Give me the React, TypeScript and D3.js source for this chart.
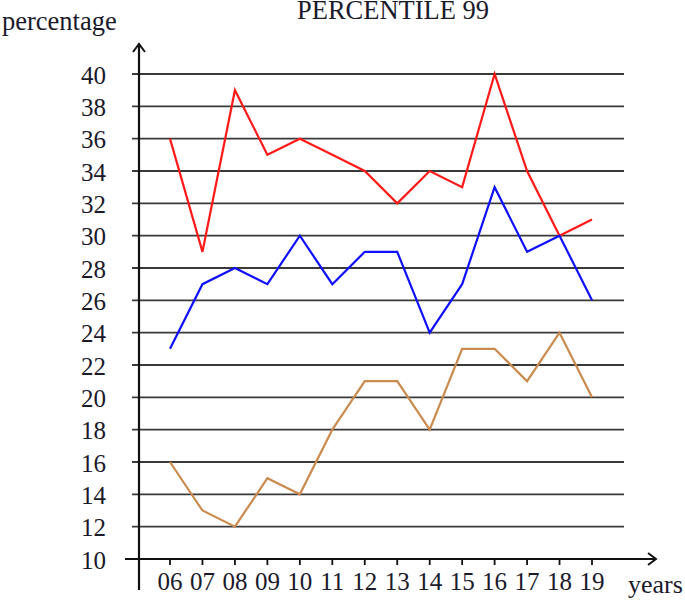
import React from "react";
import * as d3 from "d3";

const years = ["06", "07", "08", "09", "10", "11", "12", "13", "14", "15", "16", "17", "18", "19"];
const redSeries = [36, 29, 39, 35, 36, 35, 34, 32, 34, 33, 40, 34, 30, 31];
const blueSeries = [23, 27, 28, 27, 30, 27, 29, 29, 24, 27, 33, 29, 30, 26];
const brownSeries = [16, 13, 12, 15, 14, 18, 21, 21, 18, 23, 23, 21, 24, 20];
const yTicks = [10, 12, 14, 16, 18, 20, 22, 24, 26, 28, 30, 32, 34, 36, 38, 40];

const W = 685;
const H = 602;
const FONT = "'Liberation Serif', 'Times New Roman', 'DejaVu Serif', serif";

export default function App() {
  const x = d3.scalePoint<string>().domain(years).range([170, 592]);
  const y = d3.scaleLinear().domain([10, 40]).range([559, 74]);
  const axisX = 139;
  const gridRight = 624;

  const line = d3
    .line<number>()
    .x((_, i) => x(years[i]) as number)
    .y((d) => y(d));

  const series = [
    { data: redSeries, color: "#ff1a1a" },
    { data: blueSeries, color: "#1010ff" },
    { data: brownSeries, color: "#c98b4e" },
  ];

  return (
    <svg
      width={W}
      height={H}
      style={{ position: "absolute", left: 0, top: 0, background: "#fff" }}
    >
      <rect x={0} y={0} width={W} height={H} fill="#fff" />
      {/* gridlines */}
      {yTicks.map((t) =>
        t === 10 ? null : (
          <line
            key={"g" + t}
            x1={132}
            x2={gridRight}
            y1={y(t)}
            y2={y(t)}
            stroke="#3a3a3a"
            strokeWidth={1.8}
          />
        )
      )}
      {/* y tick labels */}
      {yTicks.map((t) => (
        <text
          key={"yl" + t}
          x={106}
          y={y(t) + 9.5}
          textAnchor="end"
          fontFamily={FONT}
          fontSize={25}
          fill="#1a1a2a"
        >
          {t}
        </text>
      ))}
      {/* x axis */}
      <line x1={125} x2={656} y1={559} y2={559} stroke="#111" strokeWidth={2.2} />
      <path d="M648,553 L656,559 L648,565" fill="none" stroke="#111" strokeWidth={2} />
      {years.map((yr) => (
        <g key={"xt" + yr}>
          <line
            x1={x(yr) as number}
            x2={x(yr) as number}
            y1={559}
            y2={565}
            stroke="#111"
            strokeWidth={1.8}
          />
          <text
            x={x(yr) as number}
            y={590}
            textAnchor="middle"
            fontFamily={FONT}
            fontSize={25}
            fill="#1a1a2a"
          >
            {yr}
          </text>
        </g>
      ))}
      {/* y axis */}
      <line x1={axisX} x2={axisX} y1={590} y2={44} stroke="#111" strokeWidth={2.2} />
      <path d={`M${axisX - 6},52 L${axisX},44 L${axisX + 6},52`} fill="none" stroke="#111" strokeWidth={2} />
      {/* series */}
      {series.map((s, i) => (
        <path
          key={"s" + i}
          d={line(s.data) as string}
          fill="none"
          stroke={s.color}
          strokeWidth={2.2}
          strokeLinejoin="miter"
        />
      ))}
      {/* labels */}
      <text x={2} y={30} fontFamily={FONT} fontSize={26.5} fill="#1a1a2a">
        percentage
      </text>
      <text x={297} y={19} fontFamily={FONT} fontSize={26.5} fill="#1a1a2a">
        PERCENTILE 99
      </text>
      <text x={628} y={593} fontFamily={FONT} fontSize={26} fill="#1a1a2a">
        years
      </text>
    </svg>
  );
}
